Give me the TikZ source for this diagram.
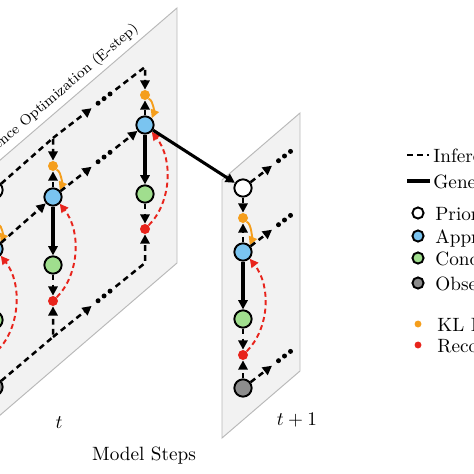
\documentclass[tikz,border=0pt]{standalone}
\usetikzlibrary{arrows.meta,calc}
\definecolor{cblue}{RGB}{122,196,240}
\definecolor{cgreen}{RGB}{160,222,142}
\definecolor{cgray}{RGB}{140,140,140}
\definecolor{corange}{RGB}{245,158,28}
\definecolor{cred}{RGB}{232,36,28}
\definecolor{cpanel}{RGB}{242,242,242}
\definecolor{cpanelb}{RGB}{185,185,185}
% #1 prefix, #2 x, #3 y KL dot, #4 y posterior, #5 y conditional, #6 y reconstruction dot
\newcommand{\stepcol}[6]{%
  \node[kldot] (#1k) at (#2,#3) {};
  \node[postnode] (#1b) at (#2,#4) {};
  \node[condnode] (#1c) at (#2,#5) {};
  \node[recdot] (#1r) at (#2,#6) {};
  \draw[genl,harrow] (#1b) -- (#1c);
  \draw[infl,harrow] (#1b) -- (#1k);
  \draw[infl,harrow] (#1c) -- (#1r);
  \draw[recarc] (#1r.north east) .. controls +(22,-22) and +(22,28) .. (#1b.south east);
  \draw[klarc] (#1k.south east) .. controls +(5,2) and +(2,-5) .. (#1b.north east);
}
\begin{document}
\begin{tikzpicture}[x=0.52pt,y=-0.52pt,
  bignode/.style={circle,draw=black,line width=1pt,minimum size=9pt,inner sep=0pt},
  priornode/.style={bignode,fill=white},
  postnode/.style={bignode,fill=cblue},
  condnode/.style={bignode,fill=cgreen},
  obsnode/.style={bignode,fill=cgray},
  kldot/.style={circle,fill=corange,minimum size=5.2pt,inner sep=0pt},
  recdot/.style={circle,fill=cred,minimum size=5.2pt,inner sep=0pt},
  infl/.style={line width=1.3pt,dash pattern=on 3pt off 2.2pt},
  genl/.style={line width=1.6pt},
  harrow/.style={-{Triangle[length=4.8pt,width=4.8pt]}},
  recarc/.style={draw=cred,line width=1pt,dash pattern=on 2.6pt off 1.8pt,-{Triangle[length=4.4pt,width=4.4pt]}},
  klarc/.style={draw=corange,line width=1pt,-{Triangle[length=4.4pt,width=4.4pt]}},
  panelsty/.style={fill=cpanel,draw=cpanelb,line width=0.5pt},
  legtext/.style={anchor=base west,inner sep=0pt},
  legcirc/.style={circle,draw=black,line width=1pt,minimum size=5.8pt,inner sep=0pt},
  legdot/.style={circle,minimum size=3.6pt,inner sep=0pt}
]
\useasboundingbox (0,0) rectangle (474,474);
\clip (0,0) rectangle (474,474);

% panels
\path[panelsty] (177,8) -- (177,263) -- (-30,441) -- (-30,186) -- cycle;
\path[panelsty] (300,113) -- (300,371) -- (222,438) -- (222,180) -- cycle;

\node[rotate=40.4,anchor=south,font=\fontsize{7.6}{9}\selectfont,inner sep=0.5pt] (title) at (59.5,104) {Inference Optimization (E-step)};

% column A (first column of step t)
\node[priornode] (Ap) at (-6,190) {};
\stepcol{A}{-6}{220}{249}{320}{354}
\node[obsnode] (Ag) at (-6,387) {};
\draw[infl,harrow] (Ap) -- (Ak);
\draw[infl,harrow] (Ag) -- (Ar);

% column B
\coordinate (Btc) at (53,138);
\coordinate (Bbc) at (53,337);
\stepcol{B}{53}{166}{197}{265}{301}

% column C
\coordinate (Ctc) at (145,67);
\coordinate (Cbc) at (145,263);
\stepcol{C}{145}{95}{125}{194}{229}

% column D (step t+1)
\node[priornode] (Dp) at (243,188) {};
\stepcol{D}{243}{218}{252}{319}{355}
\node[obsnode] (Dg) at (243,388) {};
\draw[infl,harrow] (Dp) -- (Dk);
\draw[infl,harrow] (Dg) -- (Dr);

% rows A -> B
\draw[infl,harrow] (Ap) -- (Btc) -- (Bk);
\draw[infl,harrow] (Ab) -- (Bb);
\draw[infl,harrow] (Ag) -- (Bbc) -- (Br);

% rows B -> C with ellipsis
\draw[infl,harrow] (Btc) -- ($(Btc)!0.42!(Ctc)$);
\foreach \s in {0.49,0.555,0.62} \fill ($(Btc)!\s!(Ctc)$) circle (1.3pt);
\draw[infl,harrow] ($(Btc)!0.68!(Ctc)$) -- (Ctc) -- (Ck);

\draw[infl,harrow] (Bb) -- ($(Bb)!0.42!(Cb)$);
\foreach \s in {0.49,0.555,0.62} \fill ($(Bb)!\s!(Cb)$) circle (1.3pt);
\draw[infl,harrow] ($(Bb)!0.68!(Cb)$) -- (Cb);

\draw[infl,harrow] (Bbc) -- ($(Bbc)!0.42!(Cbc)$);
\foreach \s in {0.49,0.555,0.62} \fill ($(Bbc)!\s!(Cbc)$) circle (1.3pt);
\draw[infl,harrow] ($(Bbc)!0.68!(Cbc)$) -- (Cbc) -- (Cr);

% rows leaving step t+1
\foreach \n in {Dp,Db,Dg}{
  \draw[infl,harrow] (\n) -- ($(\n)+(29,-22.3)$);
  \foreach \dx/\dy in {35.5/-27.3,41.5/-32,47.5/-36.6} \fill ($(\n)+(\dx,\dy)$) circle (1.3pt);
}

% generative transition
\draw[genl,harrow] (Cb) -- (Dp);

% labels
\node[anchor=base] (lt) at (59,428) {$t$};
\node[anchor=base] (lt1) at (297,425) {$t+1$};
\node[anchor=base] (ms) at (144,460) {Model Steps};

% legend
\coordinate (l1a) at (407,155); \coordinate (l1b) at (429,155);
\draw[infl] (l1a) -- (l1b);
\node[legtext] (t1) at (433,162) {Inference};
\coordinate (l2a) at (407,181); \coordinate (l2b) at (430,181);
\draw[genl] (l2a) -- (l2b);
\node[legtext] (t2) at (433,188) {Generative};
\node[legcirc,fill=white] (c1) at (418,213) {};
\node[legtext] (t3) at (435,220) {Prior};
\node[legcirc,fill=cblue] (c2) at (418,236) {};
\node[legtext] (t4) at (435,243) {Approximate Posterior};
\node[legcirc,fill=cgreen] (c3) at (418,258) {};
\node[legtext] (t5) at (435,265) {Conditional Likelihood};
\node[legcirc,fill=cgray] (c4) at (418,283) {};
\node[legtext] (t6) at (435,290) {Observation};
\node[legdot,fill=corange] (d1) at (418,324) {};
\node[legtext] (t7) at (437,331) {KL Divergence};
\node[legdot,fill=cred] (d2) at (418,345) {};
\node[legtext] (t8) at (437,352) {Reconstruction};
\end{tikzpicture}
\end{document}
